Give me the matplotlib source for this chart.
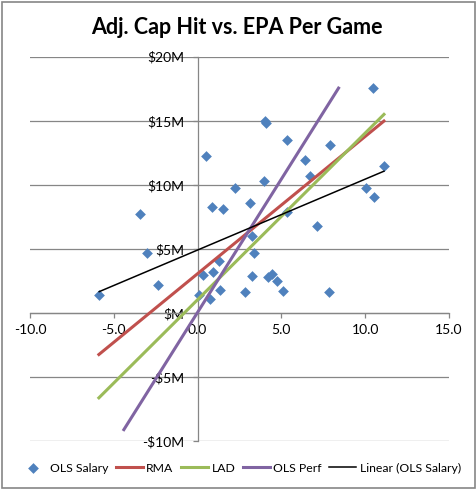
import matplotlib
matplotlib.use("Agg")
import matplotlib.pyplot as plt
from matplotlib.patches import Rectangle
from matplotlib.ticker import FuncFormatter
import numpy as np

plt.rcParams['font.family'] = ['Lato', 'DejaVu Sans']

# EPA per game vs adjusted cap hit ($M)
epa = [-5.87, -3.44, -3.01, -2.35, 0.50, 0.10, 0.30, 0.72, 0.87, 0.93,
       1.25, 1.31, 1.53, 2.23, 2.82, 3.14, 3.26, 3.26, 3.36, 3.94,
       4.00, 4.09, 4.20, 4.45, 4.75, 5.11, 5.31, 5.31, 6.42, 6.70,
       7.12, 7.85, 7.91, 10.04, 10.48, 10.50, 11.12]
cap_hit = [1.41, 7.76, 4.69, 2.22, 12.22, 1.41, 3.00, 1.10, 8.31, 3.23,
           4.09, 1.77, 8.15, 9.72, 1.64, 8.55, 6.02, 2.92, 4.72, 10.34,
           14.98, 14.80, 2.80, 3.05, 2.53, 1.72, 13.49, 7.90, 11.98, 10.73,
           6.80, 1.64, 13.15, 9.72, 17.53, 9.09, 11.44]

# fitted lines (endpoints)
rma_x = [-5.89, 11.12]
rma_y = [-3.23, 14.98]
lad_x = [-5.89, 11.12]
lad_y = [-6.61, 15.50]
perf_x = [-4.40, 8.41]
perf_y = [-9.09, 17.55]

# Excel linear trendline of OLS Salary
trend_slope = 0.553
trend_intercept = 4.92

blue = '#4F81BD'
red = '#C0504D'
green = '#9BBB59'
purple = '#8064A2'
grey = '#868686'

fig = plt.figure(figsize=(4.77, 4.90), dpi=100)
ax = fig.add_axes([30 / 477, 1 - 441.3 / 490, 419 / 477, 384.6 / 490])

ax.scatter(epa, cap_hit, marker='D', s=30, color=blue, zorder=3,
           label='OLS Salary', linewidths=0)
ax.plot(rma_x, rma_y, color=red, lw=2.2, label='RMA', zorder=4)
ax.plot(lad_x, lad_y, color=green, lw=2.2, label='LAD', zorder=4)
ax.plot(perf_x, perf_y, color=purple, lw=2.2, label='OLS Perf', zorder=4)
tx = np.array([min(epa), max(epa)])
ax.plot(tx, trend_slope * tx + trend_intercept, color='black', lw=1.1,
        label='Linear (OLS Salary)', zorder=5)

ax.set_xlim(-10, 15)
ax.set_ylim(-10, 20)
ax.set_xticks([-10, -5, 0, 5, 10, 15])
ax.set_yticks([-10, -5, 0, 5, 10, 15, 20])
ax.xaxis.set_major_formatter(FuncFormatter(lambda v, p: f'{v:.1f}'))


def money(v, p):
    v = int(round(v))
    if v == 0:
        return '$M'
    return f'-${abs(v)}M' if v < 0 else f'${v}M'


ax.yaxis.set_major_formatter(FuncFormatter(money))

for s in ['top', 'right']:
    ax.spines[s].set_visible(False)
ax.spines['left'].set_position(('data', 0))
ax.spines['bottom'].set_position(('data', 0))
for s in ['left', 'bottom']:
    ax.spines[s].set_color(grey)
    ax.spines[s].set_linewidth(0.9)

ax.yaxis.grid(True, color=grey, lw=0.9)
ax.set_axisbelow(True)
ax.tick_params(axis='x', direction='out', length=3.6, width=0.9, color=grey,
               pad=4.5, labelsize=10)
ax.tick_params(axis='y', direction='out', length=3.6, width=0.9, color=grey,
               pad=6, labelsize=10)

fig.text(237 / 477, 1 - 27 / 490, 'Adj. Cap Hit vs. EPA Per Game',
         ha='center', va='center', fontsize=15.5, fontweight='bold')

fig.legend(loc='center', bbox_to_anchor=(240 / 477, 1 - 468 / 490), ncol=5,
           frameon=False, fontsize=8.8, handlelength=2.2, handletextpad=0.3,
           columnspacing=0.6, scatterpoints=1, borderpad=0.2)

fig.patches.append(Rectangle((2 / 477, 2 / 490), 473 / 477, 486 / 490,
                             transform=fig.transFigure, fill=False,
                             edgecolor=grey, lw=1.2))

fig.savefig('out.png', dpi=100)
